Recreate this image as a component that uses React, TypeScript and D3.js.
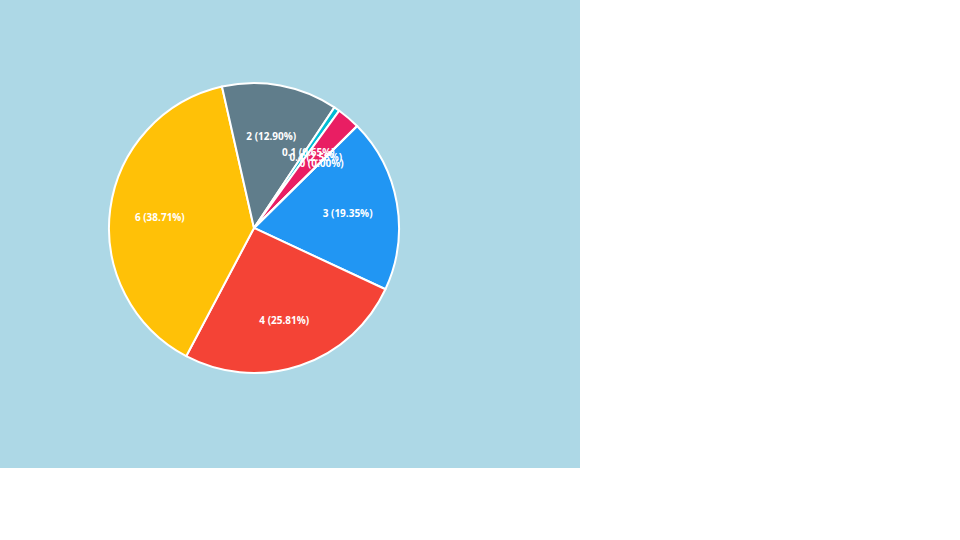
import * as d3 from 'd3';
import React, { useEffect, useRef } from "react";

const categories = ['A', 'B', 'C', 'D', 'E', 'F', 'G'];
const values = [3, 4, 6, 2, 0.1, 0.4, 0];
const colors = ['#2196F3', '#F44336', '#FFC107', '#607D8B', '#00BCD4', '#E91E63', '#4CAF50'];

const App: React.FC = () => {
    const ref = useRef<SVGSVGElement>(null);

    useEffect(() => {
        if (ref.current) {
            const width = 580;
            const height = 468;
            const radius = 145;
            const cx = 254;
            const cy = 228;

            const svg = d3.select(ref.current);
            svg.selectAll('*').remove();

            svg.append('rect')
                .attr('width', width)
                .attr('height', height)
                .attr('fill', '#ADD8E6');

            const g = svg.append('g')
                .attr('transform', `translate(${cx}, ${cy})`);

            const total = d3.sum(values);
            const data = categories.map((c, i) => ({ cat: c, value: values[i], color: colors[i] }));

            const startAngle = 45.3 * Math.PI / 180;
            const pie = d3.pie<typeof data[0]>()
                .value(d => d.value)
                .sort(null)
                .startAngle(startAngle)
                .endAngle(startAngle + 2 * Math.PI);

            const arc = d3.arc<d3.PieArcDatum<typeof data[0]>>()
                .innerRadius(0)
                .outerRadius(radius);

            const labelArc = d3.arc<d3.PieArcDatum<typeof data[0]>>()
                .innerRadius(95)
                .outerRadius(95);

            const arcs = pie(data);

            g.selectAll('path')
                .data(arcs)
                .enter()
                .append('path')
                .attr('d', arc)
                .attr('fill', d => d.data.color)
                .attr('stroke', '#fff')
                .attr('stroke-width', 2)
                .attr('stroke-linejoin', 'round');

            g.selectAll('text')
                .data(arcs)
                .enter()
                .append('text')
                .attr('transform', d => {
                    const [x, y] = labelArc.centroid(d);
                    return `translate(${x}, ${y + 2})`;
                })
                .attr('text-anchor', 'middle')
                .attr('dy', '0.35em')
                .attr('fill', '#fff')
                .attr('font-family', '"Open Sans", "DejaVu Sans", sans-serif')
                .attr('font-weight', 'bold')
                .attr('font-size', 10)
                .text(d => `${d.data.value} (${(d.data.value / total * 100).toFixed(2)}%)`);
        }
    }, []);

    return (
        <div style={{ position: 'absolute', left: 0, top: 0 }}>
            <svg ref={ref} width={580} height={468} style={{ display: 'block' }}></svg>
        </div>
    );
};

export default App;
